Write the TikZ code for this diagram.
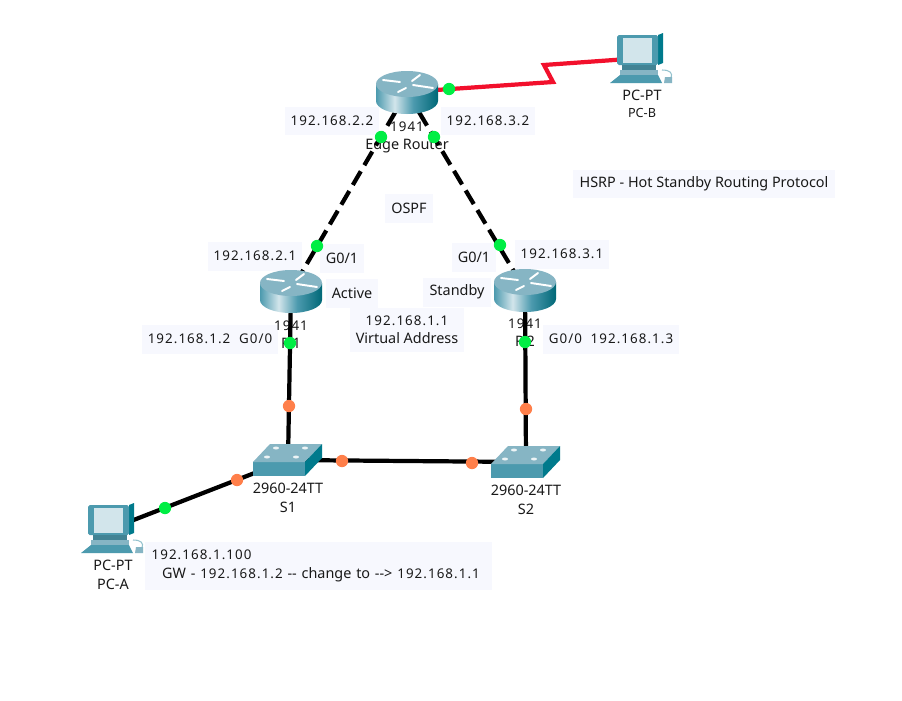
\documentclass[tikz,border=0pt]{standalone}
\usepackage{fontspec}
\setmainfont{Noto Sans}
\newfontfamily\ipfont[LetterSpace=8]{Noto Sans}
\newcommand{\ipf}{\fontsize{7.6}{10.2}\ipfont}
\usetikzlibrary{positioning,calc,shapes.geometric}
\definecolor{boxbg}{HTML}{F7F8FE}
\definecolor{portgreen}{HTML}{00EE44}
\definecolor{portorange}{HTML}{FF7F4A}
\definecolor{linkred}{HTML}{F2102C}
\definecolor{iconface}{HTML}{4C9AAE}
\definecolor{icontop}{HTML}{86B5C4}
\definecolor{iconside}{HTML}{007A8C}
\definecolor{iconscreen}{HTML}{D2E5EB}
\pgfdeclarehorizontalshading{routerside}{100bp}{color(0bp)=(iconface); color(25bp)=(iconface); color(40bp)=(iconscreen); color(55bp)=(iconface); color(75bp)=(iconside!85!black); color(100bp)=(iconside!85!black)}
\tikzset{
  routericon/.pic={
    \path[shading=routerside] (-31,-8) -- (-31,9) arc[start angle=180, end angle=0, x radius=31, y radius=13] -- (31,-8) -- cycle;
    \fill[icontop] (0,-8) ellipse[x radius=31, y radius=13];
    \foreach \ax/\ay/\bx/\by in {-24/-12/-7/-10, 6/-7/26/-4, -9/0/-1/-4, 5/-11/13/-17}
      \draw[white, line width=1.1pt, line cap=round] (\ax,\ay) -- (\bx,\by);
  },
  switchicon/.pic={
    \fill[iconface] (-35,2) rectangle (17,16);
    \fill[icontop] (-35,2) -- (-18,-16) -- (34,-16) -- (17,2) -- cycle;
    \fill[iconside] (17,2) -- (34,-16) -- (34,-2) -- (17,16) -- cycle;
    \foreach \ax/\ay in {-12/-12, 17/-12, -21/-3, 8/-3}
      \fill[white!85!icontop] (\ax,\ay) ellipse[x radius=3, y radius=1.5];
  },
  pcicon/.pic={
    \draw[iconface!60, line width=0.6pt] (20,12) .. controls (28,12) and (31,15) .. (29,20);
    \fill[iconside] (16,-23) -- (21,-25) -- (21,5) -- (16,7) -- cycle;
    \fill[iconface, rounded corners=1pt] (-25,-23) -- (16,-23) -- (16,7) -- (-25,7) -- cycle;
    \fill[iconscreen] (-19,-20) rectangle (10,5);
    \fill[iconface!85!black] (-20,7) rectangle (14,12);
    \fill[icontop] (-22,12) rectangle (16,17);
    \fill[iconface] (-22,17) -- (16,17) -- (20,25) -- (-32,25) -- cycle;
    \fill[icontop] (23,19) -- (30,19) -- (30,25) -- (22,25) -- cycle;
  },
}
\begin{document}
\begin{tikzpicture}[
  x=0.02cm, y=-0.02cm,
  every node/.style={font=\fontsize{8.2}{10.4}\selectfont, text=black!90},
  device/.style={inner sep=0pt, minimum size=0pt},
  devlabel/.style={align=center, inner sep=0pt},
  textbox/.style={fill=boxbg, inner xsep=3.5pt, inner ysep=0pt, minimum height=16.5pt, align=center},
  ipbox/.style={textbox, font=\ipf},
  link/.style={line width=2.4pt, black},
  olink/.style={link, dash pattern=on 9pt off 4pt},
  serial/.style={line width=2.4pt, linkred},
  portup/.style={circle, fill=portgreen, inner sep=0pt, minimum size=7pt},
  portamber/.style={circle, fill=portorange, inner sep=0pt, minimum size=7pt},
]
\useasboundingbox[fill=white] (0,0) rectangle (902,700);

% Devices
\node[device] (er) at (407,92) {};
\node[device] (r1) at (291,291) {};
\node[device] (r2) at (525,290) {};
\node[device] (s1) at (288,460) {};
\node[device] (s2) at (526,462) {};
\node[device] (pca) at (113,528) {};
\node[device] (pcb) at (642,58) {};
\coordinate (bendA) at (553,82);
\coordinate (bendB) at (544,65);

% Address boxes
\node[ipbox] (iper2) at (332,121) {192.168.2.2};
\node[ipbox] (iper3) at (488,121) {192.168.3.2};
\node[textbox] (hsrp) at (704,184) {HSRP - Hot Standby Routing Protocol};
\node[textbox] (ospf) at (409,208) {OSPF};
\node[ipbox] (ipr1up) at (255,256) {192.168.2.1};
\node[textbox] (gr1up) at (342,258) {G0/1};
\node[textbox] (active) at (352,293) {Active};
\node[ipbox] (ipr1) at (210,339) {192.168.1.2\hspace{5pt}G0/0};
\node[textbox, minimum height=25.5pt] (vip) at (407,330) {{\ipf 192.168.1.1}\\Virtual Address};
\node[textbox] (standby) at (457,292) {Standby};
\node[textbox] (gr2up) at (474,257) {G0/1};
\node[ipbox] (ipr2up) at (562,254) {192.168.3.1};
\node[ipbox] (ipr2) at (611,339) {G0/0\hspace{5pt}192.168.1.3};
\node[textbox, align=left, minimum height=27pt, minimum width=197pt, text width=190pt] (gw) at (318.5,566)
  {{\ipf 192.168.1.100}\\\hspace*{6pt}GW - {\ipf 192.168.1.2} -{}- change to -{}-> {\ipf 192.168.1.1}};

% Device labels
\node[devlabel, below=16.5pt of er] (erlab) {{\ipf 1941}\\Edge Router};
\node[devlabel, below=16.5pt of r1] (r1lab) {{\ipf 1941}\\{\fontsize{8.2}{10.4}\ipfont R\hspace{1.5pt}1}};
\node[devlabel, below=16pt of r2] (r2lab) {{\ipf 1941}\\{\fontsize{8.2}{10.4}\ipfont R\hspace{1.5pt}2}};
\node[devlabel, below=13pt of s1] (s1lab) {2960-24TT\\S1};
\node[devlabel, below=13pt of s2] (s2lab) {2960-24TT\\S2};
\node[devlabel, below=18pt of pca] (pcalab) {PC-PT\\PC-A};
\node[devlabel, below=18pt of pcb] (pcblab) {PC-PT\\[-1pt]{\fontsize{7.2}{9}\selectfont PC-B}};

% Links
\draw[olink] (er) -- (r1);
\draw[olink] (er) -- (r2);
\draw[link] (r1) -- (s1);
\draw[link] (r2) -- (s2);
\draw[link] (s1) -- (s2);
\draw[link] (pca) -- (s1);
\draw[serial] (er) -- (bendA) -- (bendB) -- (pcb);

% Ports
\node[portup] (p1) at (449,89) {};
\node[portup] (p2) at (381,137) {};
\node[portup] (p3) at (434,137) {};
\node[portup] (p4) at (317,246) {};
\node[portup] (p5) at (500,245) {};
\node[portup] (p6) at (290,343) {};
\node[portup] (p7) at (525,342) {};
\node[portamber] (p8) at (289,406) {};
\node[portamber] (p9) at (526,409) {};
\node[portamber] (p10) at (342,461) {};
\node[portamber] (p11) at (472,463) {};
\node[portamber] (p12) at (237,480) {};
\node[portup] (p13) at (165,508) {};

% Icons
\pic at (er) {routericon};
\pic at (r1) {routericon};
\pic at (r2) {routericon};
\pic at (s1) {switchicon};
\pic at (s2) {switchicon};
\pic at (pca) {pcicon};
\pic at (pcb) {pcicon};
\end{tikzpicture}
\end{document}
